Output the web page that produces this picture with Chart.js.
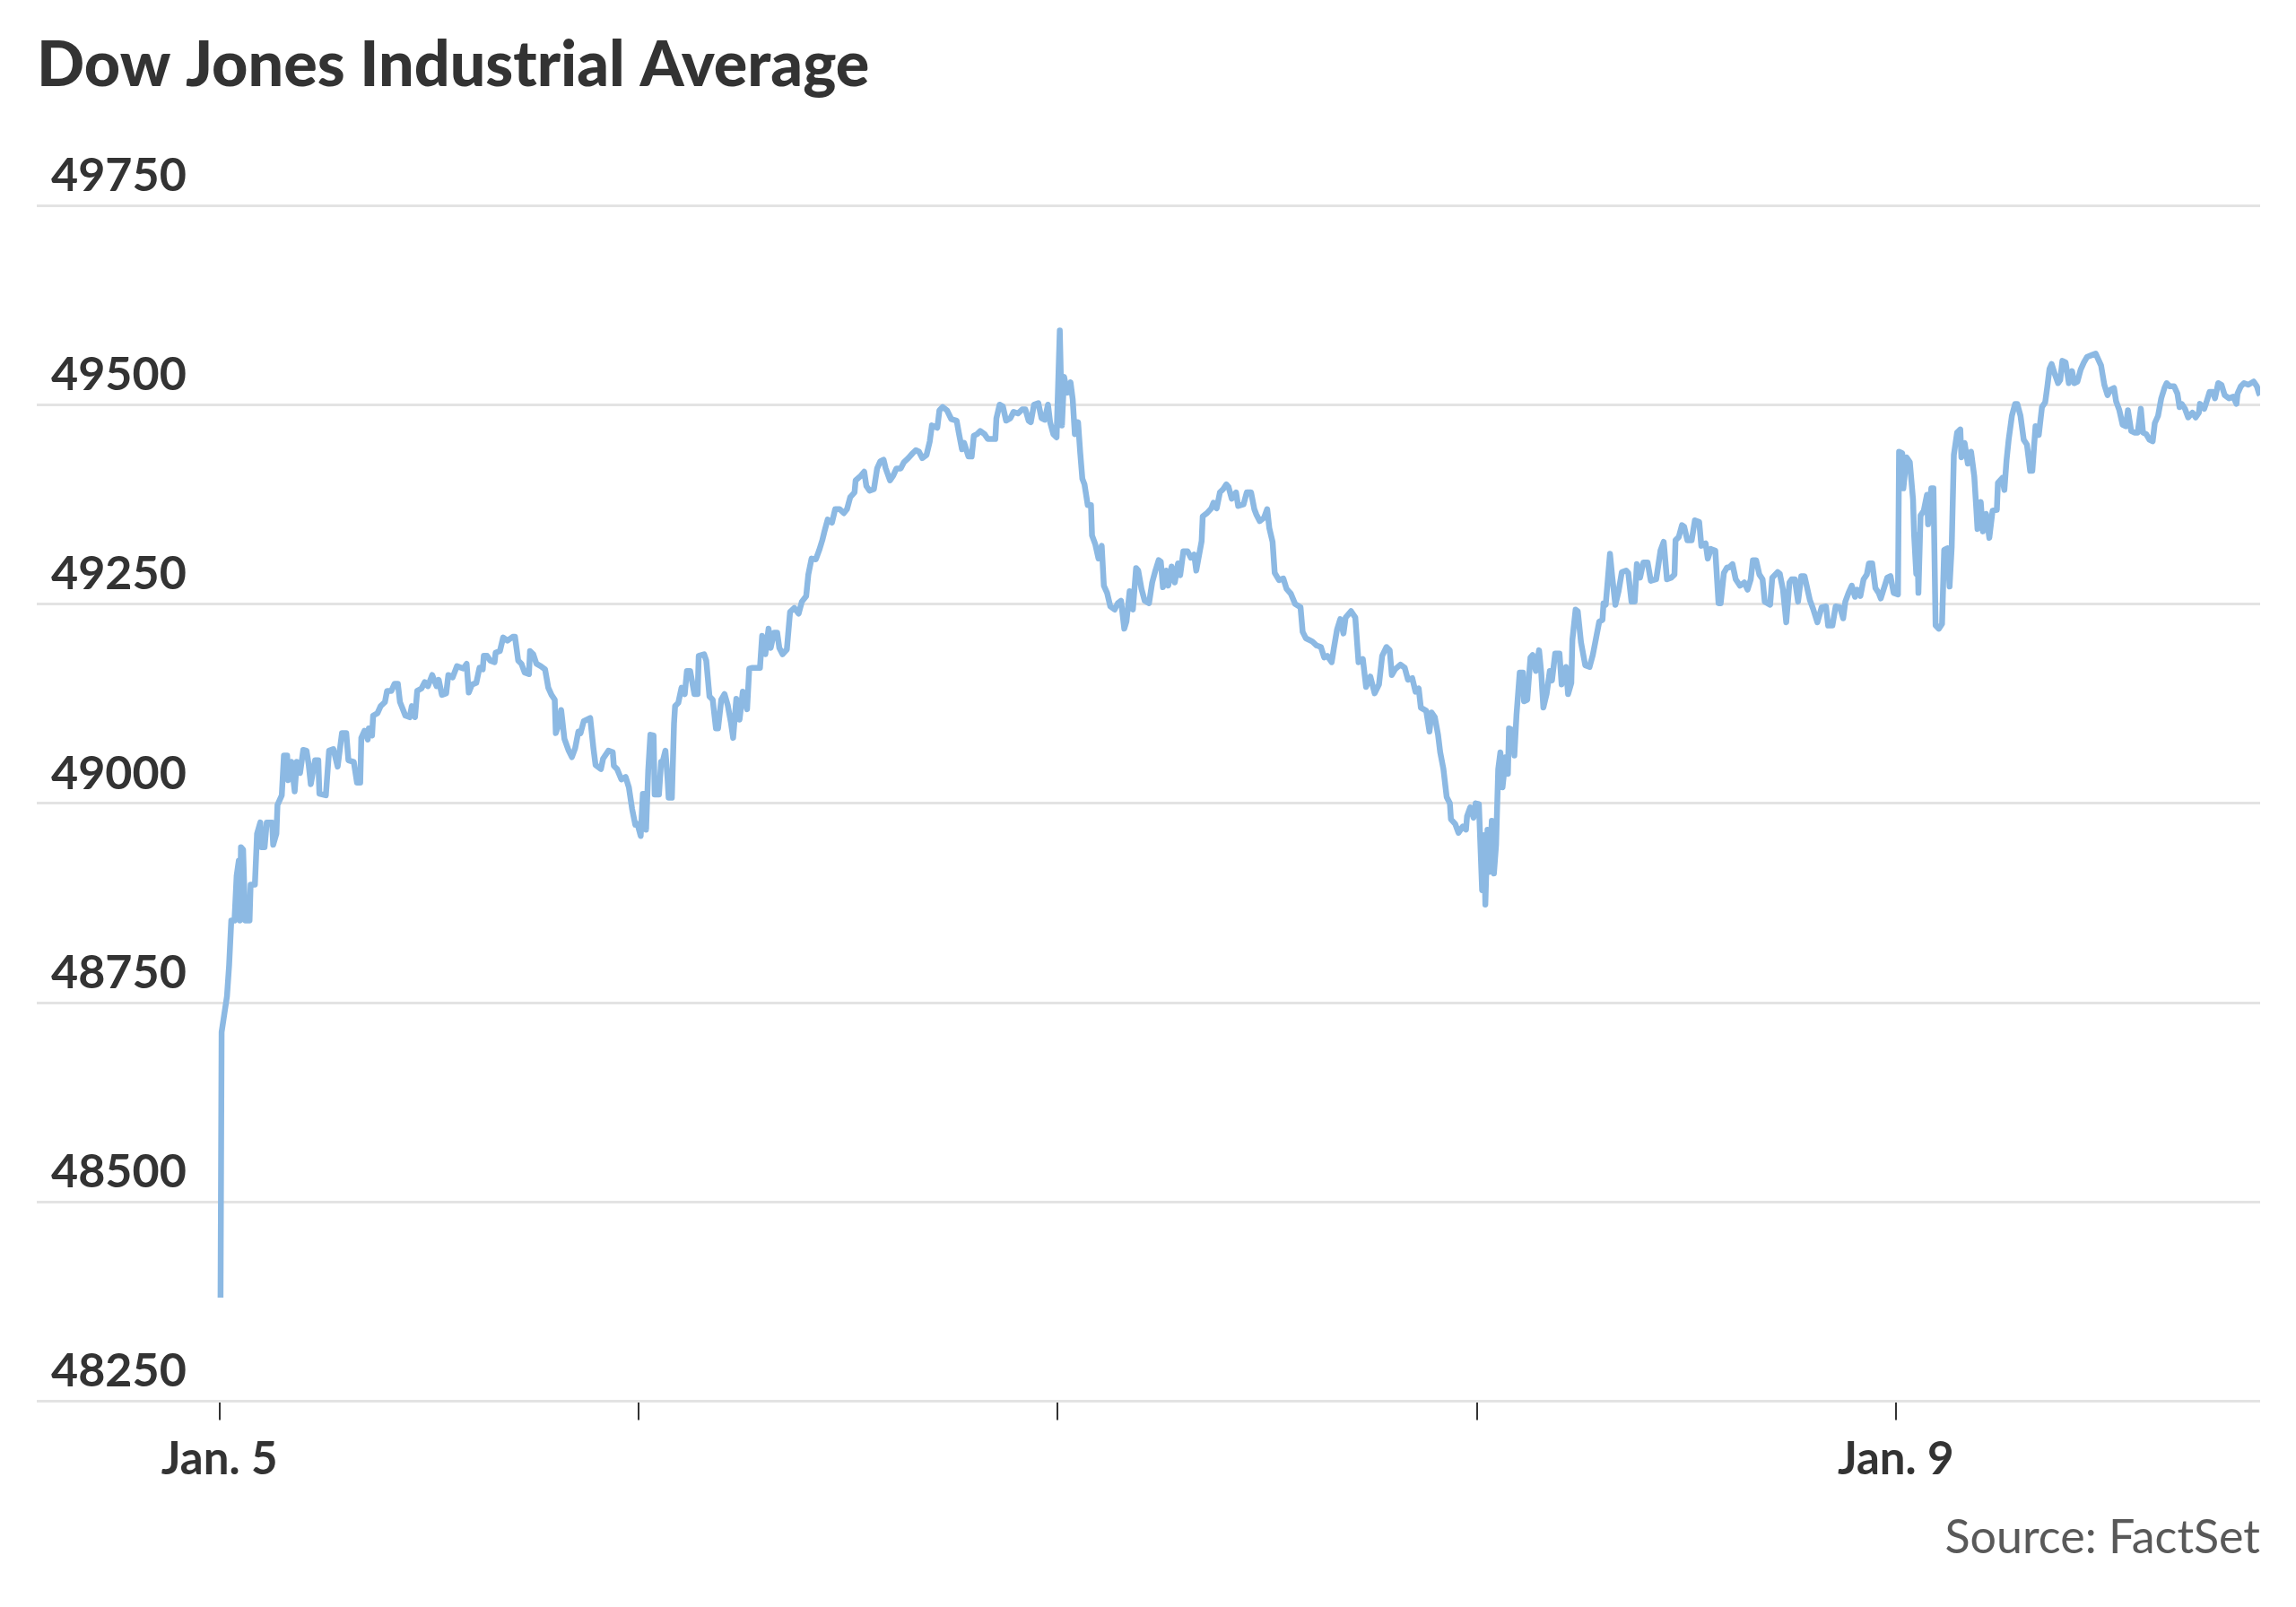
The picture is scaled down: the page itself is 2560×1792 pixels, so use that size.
<!DOCTYPE html>
<html>
<head>
<meta charset="utf-8">
<script src="https://cdn.jsdelivr.net/npm/chart.js@4.4.1/dist/chart.umd.min.js"></script>
<style>
  html, body { margin: 0; padding: 0; background: #fff; }
  #wrap { width: 2560px; height: 1792px; }
</style>
</head>
<body>
<div id="wrap"><canvas id="dow" width="2560" height="1792"></canvas></div>
<script>
// trading minutes since the Jan. 5 open (390 per session)
const dayStarts = [0, 390, 780, 1170, 1560];
const dayLabels = ["Jan. 5", "", "", "", "Jan. 9"];
const yTicks = [48250, 48500, 48750, 49000, 49250, 49500, 49750];

// [minute, index level]
const dowPoints = [
  [1,48380],[2,48713],[7,48758],[9,48797],[11,48853],[14,48853],[16,48909],[18,48928],[19,48853],[20,48945],
  [22,48942],[24,48853],[28,48853],[29,48898],[33,48898],[35,48962],[38,48976],[39,48945],[42,48945],[44,48976],
  [49,48976],[50,48948],[53,48962],[54,48998],[58,49010],[60,49060],[63,49060],[64,49029],[67,49052],[70,49015],
  [72,49052],[75,49038],[78,49067],[81,49066],[83,49049],[85,49024],[89,49054],[92,49054],[93,49012],[99,49010],
  [102,49066],[106,49068],[110,49046],[114,49088],[118,49088],[120,49054],[125,49052],[128,49026],[131,49026],[132,49082],
  [135,49091],[138,49080],[139,49094],[142,49085],[143,49110],[147,49113],[150,49122],[154,49127],[156,49141],[160,49141],
  [163,49150],[166,49150],[168,49127],[173,49110],[177,49108],[179,49122],[182,49108],[184,49141],[188,49144],[191,49152],
  [194,49147],[198,49161],[202,49147],[204,49155],[207,49136],[211,49138],[213,49161],[217,49158],[221,49172],[227,49169],
  [230,49175],[232,49139],[235,49149],[239,49151],[242,49170],[245,49168],[246,49185],[249,49185],[252,49179],[256,49177],
  [257,49189],[261,49191],[264,49208],[268,49204],[273,49209],[275,49209],[278,49179],[281,49175],[284,49164],[288,49162],
  [289,49191],[292,49187],[295,49175],[299,49172],[303,49168],[306,49145],[309,49136],[312,49130],[313,49088],[316,49100],
  [318,49117],[321,49081],[325,49066],[328,49058],[331,49069],[334,49090],[336,49088],[339,49103],[345,49107],[348,49069],
  [350,49048],[355,49043],[357,49056],[362,49066],[366,49064],[367,49047],[370,49043],[374,49030],[378,49033],[381,49020],
  [384,48993],[387,48973],[389,48974],[392,48959],[394,49012],[396,49012],[397,48967],[399,49041],[401,49086],[404,49085],
  [405,49011],[409,49011],[411,49052],[412,49050],[415,49066],[417,49031],[418,49007],[421,49007],[423,49100],[424,49122],
  [427,49126],[430,49145],[433,49137],[435,49166],[438,49166],[442,49137],[445,49137],[446,49185],[451,49187],[453,49179],
  [456,49134],[459,49130],[462,49094],[464,49094],[467,49130],[470,49137],[473,49123],[476,49101],[478,49082],[481,49131],
  [484,49105],[487,49140],[491,49118],[493,49169],[496,49170],[503,49170],[505,49210],[508,49187],[511,49219],[513,49195],
  [516,49214],[519,49214],[521,49195],[524,49187],[528,49193],[531,49240],[535,49245],[539,49238],[542,49253],[546,49260],
  [548,49287],[551,49307],[555,49306],[558,49317],[561,49330],[563,49341],[566,49356],[570,49352],[573,49369],[577,49369],
  [581,49364],[584,49369],[587,49384],[591,49390],[592,49405],[597,49411],[600,49416],[602,49398],[605,49392],[609,49394],
  [612,49420],[615,49429],[618,49431],[620,49420],[624,49405],[627,49411],[630,49420],[634,49420],[637,49428],[641,49433],
  [645,49439],[648,49443],[651,49441],[654,49433],[658,49437],[661,49454],[663,49474],[668,49471],[670,49493],[673,49497],
  [677,49493],[681,49482],[686,49480],[688,49465],[691,49444],[693,49452],[697,49435],[700,49435],[702,49461],[705,49463],
  [708,49467],[712,49463],[715,49457],[719,49457],[722,49457],[723,49483],[726,49500],[729,49498],[732,49480],[736,49483],
  [739,49491],[743,49489],[747,49494],[750,49494],[753,49480],[755,49478],[758,49500],[762,49502],[765,49483],[768,49481],
  [771,49500],[773,49478],[776,49463],[779,49459],[782,49593],[784,49474],[786,49535],[789,49515],[792,49528],[794,49507],
  [796,49463],[799,49478],[801,49440],[803,49407],[805,49400],[808,49374],[811,49374],[812,49336],[815,49325],[818,49307],
  [821,49323],[823,49273],[826,49264],[829,49247],[833,49243],[836,49251],[839,49254],[842,49219],[844,49228],[847,49266],
  [850,49243],[853,49295],[855,49292],[858,49269],[861,49254],[865,49251],[868,49277],[871,49292],[874,49305],[876,49303],
  [878,49271],[881,49292],[883,49273],[886,49297],[889,49277],[892,49301],[894,49286],[897,49316],[901,49316],[904,49308],
  [907,49312],[909,49292],[911,49307],[914,49329],[915,49360],[919,49364],[923,49370],[925,49377],[928,49370],[931,49390],
  [934,49394],[937,49400],[939,49397],[942,49382],[946,49390],[948,49373],[953,49375],[956,49390],[960,49390],[963,49369],
  [965,49362],[968,49354],[972,49358],[975,49369],[977,49345],[980,49328],[982,49289],[986,49280],[990,49282],[993,49269],
  [997,49263],[1001,49250],[1006,49246],[1008,49215],[1011,49207],[1017,49203],[1021,49198],[1025,49196],[1028,49183],[1031,49185],
  [1035,49177],[1037,49194],[1040,49218],[1043,49231],[1046,49213],[1048,49233],[1053,49241],[1057,49233],[1060,49177],[1064,49181],
  [1067,49146],[1071,49159],[1075,49138],[1079,49149],[1082,49185],[1086,49196],[1089,49192],[1091,49161],[1094,49168],[1099,49174],
  [1103,49170],[1106,49155],[1110,49157],[1113,49140],[1116,49144],[1118,49120],[1123,49116],[1126,49090],[1128,49114],[1131,49108],
  [1134,49086],[1136,49064],[1139,49043],[1142,49008],[1145,49000],[1146,48980],[1150,48974],[1153,48963],[1157,48971],[1160,48967],
  [1161,48984],[1164,48995],[1167,48982],[1169,49000],[1172,48999],[1175,48891],[1177,48960],[1178,48873],[1180,48967],[1182,48914],
  [1184,48978],[1186,48912],[1188,48948],[1190,49043],[1192,49064],[1194,49020],[1197,49058],[1199,49037],[1200,49094],[1203,49092],
  [1205,49060],[1207,49111],[1210,49164],[1213,49164],[1214,49128],[1217,49130],[1220,49183],[1222,49186],[1225,49166],[1228,49192],
  [1230,49164],[1232,49120],[1235,49137],[1238,49166],[1240,49154],[1243,49188],[1247,49188],[1249,49149],[1253,49171],[1255,49137],
  [1258,49151],[1259,49205],[1262,49243],[1264,49241],[1267,49202],[1271,49173],[1275,49171],[1278,49186],[1281,49207],[1284,49228],
  [1287,49230],[1288,49251],[1290,49249],[1294,49313],[1296,49285],[1299,49249],[1302,49266],[1305,49290],[1309,49292],[1311,49289],
  [1314,49253],[1317,49253],[1319,49300],[1322,49283],[1325,49302],[1329,49302],[1332,49279],[1337,49281],[1341,49317],[1344,49328],
  [1347,49281],[1351,49283],[1354,49287],[1355,49330],[1358,49334],[1361,49349],[1363,49347],[1366,49330],[1370,49330],[1373,49355],
  [1377,49353],[1379,49323],[1383,49326],[1385,49307],[1388,49319],[1392,49317],[1395,49251],[1397,49251],[1400,49289],[1403,49296],
  [1405,49296],[1408,49300],[1411,49281],[1415,49273],[1419,49277],[1422,49268],[1425,49281],[1427,49305],[1430,49305],[1433,49287],
  [1436,49281],[1438,49253],[1443,49249],[1445,49283],[1450,49290],[1452,49288],[1455,49268],[1458,49227],[1461,49277],[1463,49281],
  [1466,49281],[1469,49253],[1472,49285],[1475,49285],[1477,49273],[1480,49255],[1483,49244],[1487,49227],[1491,49246],[1495,49247],
  [1497,49223],[1501,49223],[1504,49247],[1508,49246],[1511,49232],[1513,49253],[1516,49264],[1519,49273],[1522,49259],[1524,49268],
  [1527,49260],[1530,49281],[1533,49287],[1535,49301],[1538,49301],[1541,49270],[1544,49264],[1546,49257],[1549,49270],[1552,49283],
  [1555,49285],[1558,49264],[1562,49262],[1563,49441],[1566,49439],[1567,49395],[1570,49434],[1573,49428],[1576,49381],[1577,49337],
  [1579,49288],[1580,49337],[1581,49264],[1583,49361],[1586,49367],[1589,49387],[1590,49350],[1593,49395],[1595,49395],[1597,49223],
  [1600,49219],[1603,49225],[1605,49318],[1608,49320],[1610,49272],[1612,49322],[1614,49437],[1617,49465],[1620,49469],[1621,49434],
  [1624,49452],[1627,49426],[1630,49441],[1633,49410],[1635,49367],[1636,49344],[1639,49378],[1641,49341],[1644,49363],[1647,49333],
  [1650,49367],[1654,49368],[1655,49402],[1659,49408],[1661,49393],[1663,49430],[1665,49456],[1668,49486],[1671,49501],[1673,49501],
  [1676,49486],[1679,49456],[1682,49450],[1685,49417],[1687,49417],[1690,49473],[1693,49462],[1696,49497],[1699,49503],[1701,49523],
  [1703,49545],[1705,49551],[1708,49538],[1711,49527],[1713,49531],[1715,49555],[1718,49553],[1721,49527],[1724,49542],[1726,49527],
  [1729,49529],[1732,49544],[1735,49553],[1738,49560],[1742,49562],[1746,49564],[1749,49555],[1751,49549],[1754,49525],[1757,49512],
  [1760,49519],[1763,49521],[1765,49504],[1768,49493],[1771,49475],[1774,49473],[1776,49493],[1779,49467],[1782,49465],[1785,49465],
  [1788,49495],[1790,49465],[1793,49463],[1796,49456],[1799,49454],[1801,49477],[1804,49486],[1807,49508],[1810,49521],[1812,49527],
  [1815,49523],[1819,49523],[1822,49514],[1824,49497],[1826,49501],[1829,49495],[1832,49484],[1836,49490],[1839,49484],[1842,49490],
  [1843,49501],[1847,49495],[1849,49503],[1852,49516],[1855,49516],[1857,49508],[1860,49527],[1863,49525],[1866,49512],[1870,49508],
  [1874,49510],[1877,49501],[1878,49514],[1881,49523],[1884,49527],[1888,49525],[1893,49529],[1896,49523],[1898,49514],[1899,49512]
];

const ctx = document.getElementById("dow");

new Chart(ctx, {
    type: "line",
    data: {
        datasets: [{
            data: dowPoints.map(p => ({ x: p[0], y: p[1] })),
            borderColor: "#8cb9e3",
            borderWidth: 6.5,
            pointRadius: 0,
            tension: 0,
            borderJoinStyle: "round",
            fill: false
        }]
    },
    options: {
        responsive: false,
        animation: false,
        devicePixelRatio: 1,
        layout: { padding: { left: 41, right: 40, top: 31, bottom: 14 } },
        plugins: {
            legend: { display: false },
            tooltip: { enabled: false },
            title: {
                display: true,
                text: "Dow Jones Industrial Average",
                align: "start",
                color: "#333333",
                font: { family: "Lato", size: 70, weight: 900 },
                padding: { top: 0, bottom: 114 }
            },
            subtitle: {
                display: true,
                text: "Source: FactSet",
                position: "bottom",
                align: "end",
                color: "#595959",
                font: { family: "Lato", size: 52, weight: "normal" },
                padding: { top: 12, bottom: 32 }
            }
        },
        scales: {
            x: {
                type: "linear",
                min: -170,
                max: 1899,
                afterBuildTicks: axis => { axis.ticks = dayStarts.map(v => ({ value: v })); },
                ticks: {
                    autoSkip: false,
                    maxRotation: 0,
                    padding: 13.4,
                    color: "#333333",
                    font: { family: "Lato", size: 51, weight: "bold" },
                    callback: (v, i) => dayLabels[i]
                },
                grid: { drawOnChartArea: false, drawTicks: true, tickLength: 21, color: "#333333", lineWidth: 2 },
                border: { display: false }
            },
            y: {
                min: 48250,
                max: 49750,
                afterBuildTicks: axis => { axis.ticks = yTicks.map(v => ({ value: v })); },
                afterFit: axis => { axis.width = 0; },
                ticks: {
                    mirror: true,
                    padding: 16,
                    labelOffset: -33,
                    color: "#333333",
                    font: { family: "Lato", size: 52, weight: "bold" },
                    callback: v => String(v)
                },
                grid: { color: "#e3e3e3", lineWidth: 3, drawTicks: false },
                border: { display: false }
            }
        }
    }
});
</script>
</body>
</html>
